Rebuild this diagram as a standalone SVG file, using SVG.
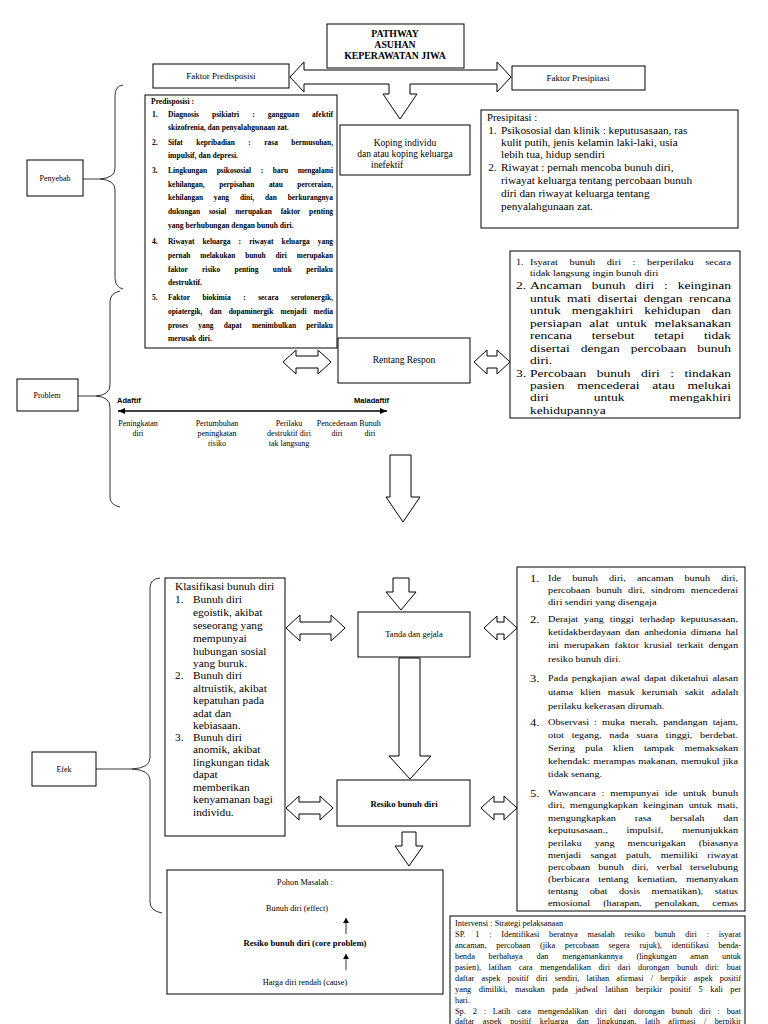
<svg xmlns="http://www.w3.org/2000/svg" width="768" height="1024" viewBox="0 0 768 1024">
<defs>
<style>
.box{fill:#fff;stroke:#000;stroke-width:1}
.arr{fill:#fff;stroke:#000;stroke-width:1}
.ln{fill:none;stroke:#000;stroke-width:0.8}
.axis{fill:none;stroke:#000;stroke-width:1.3}
text{font-family:"Liberation Serif","Times New Roman",serif;fill:#000}
.c{text-anchor:middle}
.b{font-weight:bold}
.s9{font-size:9px}
.s8{font-size:8px}
.t10{font-size:9.8px}
.pre{font-size:7.6px;font-weight:bold}
.j2{font-size:10.8px}
.j1{font-size:8.2px}
.g{font-size:9px}
.num{font-size:11px}
.iv{font-size:8.3px}
.ada{font-family:"Liberation Sans",Arial,sans-serif;font-size:7.5px;font-weight:bold}
</style>
<marker id="ah" viewBox="0 0 7 6" markerWidth="7" markerHeight="6" refX="7" refY="3" orient="auto-start-reverse" markerUnits="userSpaceOnUse">
<path d="M0,0 L7,3 L0,6 Z" fill="#000"/>
</marker>
<marker id="ah2" viewBox="0 0 5 6" markerWidth="5" markerHeight="6" refX="5" refY="3" orient="auto" markerUnits="userSpaceOnUse">
<path d="M0,0 L5,3 L0,6 Z" fill="#000"/>
</marker>
</defs>
<rect width="768" height="1024" fill="#fff"/>

<g id="title">
<rect class="box" x="327" y="24" width="137" height="44"/>
<text class="c b" font-size="9.8" x="395" y="37">PATHWAY</text>
<text class="c b" font-size="9.8" x="395" y="48">ASUHAN</text>
<text class="c b" font-size="9.8" x="395" y="59">KEPERAWATAN JIWA</text>
</g>

<g id="faktor-predisposisi">
<rect class="box" x="153" y="64" width="136" height="24"/>
<text class="c s9" x="221" y="79">Faktor Predisposisi</text>
</g>

<g id="faktor-presipitasi">
<rect class="box" x="512" y="66" width="133" height="24"/>
<text class="c s9" x="578" y="81">Faktor Presipitasi</text>
</g>

<g id="koping">
<rect class="box" x="340" y="125" width="130" height="50"/>
<text class="c" font-size="9.5" x="405" y="146">Koping individu</text>
<text class="c" font-size="9.5" x="405" y="157">dan atau koping keluarga</text>
<text font-size="9.5" x="371" y="168">inefektif</text>
</g>

<g id="predisposisi">
<rect class="box" x="145" y="95" width="192" height="253"/>
<text class="pre" x="151" y="104">Predisposisi :</text>
<text class="pre" x="152" y="117">1.</text>
<text class="pre" x="168" y="117" word-spacing="11.2" textLength="165" lengthAdjust="spacingAndGlyphs">Diagnosis psikiatri : gangguan afektif</text>
<text class="pre" x="168" y="130">skizofrenia, dan penyalahgunaan zat.</text>
<text class="pre" x="152" y="145">2.</text>
<text class="pre" x="168" y="145" word-spacing="12" textLength="165" lengthAdjust="spacingAndGlyphs">Sifat kepribadian : rasa bermusuhan,</text>
<text class="pre" x="168" y="158">impulsif, dan depresi.</text>
<text class="pre" x="152" y="173">3.</text>
<text class="pre" x="168" y="173" word-spacing="7.8" textLength="165" lengthAdjust="spacingAndGlyphs">Lingkungan psikososial : baru mengalami</text>
<text class="pre" x="168" y="187" word-spacing="13" textLength="165" lengthAdjust="spacingAndGlyphs">kehilangan, perpisahan atau perceraian,</text>
<text class="pre" x="168" y="200" word-spacing="9.2" textLength="165" lengthAdjust="spacingAndGlyphs">kehilangan yang dini, dan berkurangnya</text>
<text class="pre" x="168" y="214" word-spacing="7.2" textLength="165" lengthAdjust="spacingAndGlyphs">dukungan sosial merupakan faktor penting</text>
<text class="pre" x="168" y="228">yang berhubungan dengan bunuh diri.</text>
<text class="pre" x="152" y="244">4.</text>
<text class="pre" x="168" y="244" word-spacing="6.4" textLength="165" lengthAdjust="spacingAndGlyphs">Riwayat keluarga : riwayat keluarga yang</text>
<text class="pre" x="168" y="258" word-spacing="8.4" textLength="165" lengthAdjust="spacingAndGlyphs">pernah melakukan bunuh diri merupakan</text>
<text class="pre" x="168" y="272" word-spacing="12.9" textLength="165" lengthAdjust="spacingAndGlyphs">faktor risiko penting untuk perilaku</text>
<text class="pre" x="168" y="285">destruktif.</text>
<text class="pre" x="152" y="300">5.</text>
<text class="pre" x="168" y="300" word-spacing="10.8" textLength="165" lengthAdjust="spacingAndGlyphs">Faktor biokimia : secara serotonergik,</text>
<text class="pre" x="168" y="314" word-spacing="5.4" textLength="165" lengthAdjust="spacingAndGlyphs">opiatergik, dan dopaminergik menjadi media</text>
<text class="pre" x="168" y="328" word-spacing="8.5" textLength="165" lengthAdjust="spacingAndGlyphs">proses yang dapat menimbulkan perilaku</text>
<text class="pre" x="168" y="341">merusak diri.</text>
</g>

<g id="presipitasi">
<rect class="box" x="481" y="110" width="257" height="118"/>
<g transform="matrix(1.15 0 0 1 -73.05 0)">
<text font-size="9.3" x="487" y="121">Presipitasi :</text>
<text class="t10" x="488" y="134">1.</text>
<text class="t10" x="499.2" y="134">Psikososial dan klinik : keputusasaan, ras</text>
<text class="t10" x="499.2" y="146">kulit putih, jenis kelamin laki-laki, usia</text>
<text class="t10" x="499.2" y="158">lebih tua, hidup sendiri</text>
<text class="t10" x="488" y="171">2.</text>
<text class="t10" x="499.2" y="171">Riwayat : pernah mencoba bunuh diri,</text>
<text class="t10" x="499.2" y="184">riwayat keluarga tentang percobaan bunuh</text>
<text class="t10" x="499.2" y="197">diri dan riwayat keluarga tentang</text>
<text class="t10" x="499.2" y="210">penyalahgunaan zat.</text>
</g>
</g>

<g id="penyebab">
<rect class="box" x="27" y="160" width="56" height="36"/>
<text class="c s8" x="55" y="181">Penyebab</text>
</g>

<g id="problem">
<rect class="box" x="17" y="379" width="61" height="32"/>
<text class="c s8" x="47" y="398">Problem</text>
</g>

<g id="rentang-respon">
<rect class="box" x="338" y="338" width="132" height="45"/>
<text class="c" font-size="9.5" x="404" y="363">Rentang Respon</text>
</g>

<g id="rentang-skala">
<text class="ada" x="117" y="403">Adaftif</text>
<text class="ada" x="389" y="403" text-anchor="end">Maladaftif</text>
<text class="c s8" x="138" y="426">Peningkatan</text>
<text class="c s8" x="138" y="436">diri</text>
<text class="c s8" x="217" y="426">Pertumbuhan</text>
<text class="c s8" x="217" y="436">peningkatan</text>
<text class="c s8" x="217" y="446">risiko</text>
<text class="c s8" x="289" y="426">Perilaku</text>
<text class="c s8" x="289" y="436">destruktif diri</text>
<text class="c s8" x="289" y="446">tak langsung</text>
<text class="c s8" x="337" y="426">Pencederaan</text>
<text class="c s8" x="337" y="436">diri</text>
<text class="c s8" x="370" y="426">Bunuh</text>
<text class="c s8" x="370" y="436">diri</text>
</g>

<g id="jenis-bunuh-diri">
<rect class="box" x="510" y="251" width="230" height="167"/>
<g transform="matrix(1.25 0 0 1 -129 0)">
<text class="j1" x="516" y="265">1.</text>
<text class="j1" x="527.2" y="265" word-spacing="7.2" textLength="160.8" lengthAdjust="spacingAndGlyphs">Isyarat bunuh diri : berperilaku secara</text>
<text class="j1" x="527.2" y="276">tidak langsung ingin bunuh diri</text>
<text class="j2" x="516" y="289">2.</text>
<text class="j2" x="527.2" y="289" word-spacing="5.2" textLength="160.8" lengthAdjust="spacingAndGlyphs">Ancaman bunuh diri : keinginan</text>
<text class="j2" x="527.2" y="302" word-spacing="2.4" textLength="160.8" lengthAdjust="spacingAndGlyphs">untuk mati disertai dengan rencana</text>
<text class="j2" x="527.2" y="314" word-spacing="6.1" textLength="160.8" lengthAdjust="spacingAndGlyphs">untuk mengakhiri kehidupan dan</text>
<text class="j2" x="527.2" y="327" word-spacing="3.3" textLength="160.8" lengthAdjust="spacingAndGlyphs">persiapan alat untuk melaksanakan</text>
<text class="j2" x="527.2" y="339" word-spacing="13.1" textLength="160.8" lengthAdjust="spacingAndGlyphs">rencana tersebut tetapi tidak</text>
<text class="j2" x="527.2" y="352" word-spacing="6.1" textLength="160.8" lengthAdjust="spacingAndGlyphs">disertai dengan percobaan bunuh</text>
<text class="j2" x="527.2" y="364">diri.</text>
<text class="j2" x="516" y="377">3.</text>
<text class="j2" x="527.2" y="377" word-spacing="5.7" textLength="160.8" lengthAdjust="spacingAndGlyphs">Percobaan bunuh diri : tindakan</text>
<text class="j2" x="527.2" y="389" word-spacing="7.5" textLength="160.8" lengthAdjust="spacingAndGlyphs">pasien mencederai atau melukai</text>
<text class="j2" x="527.2" y="401" word-spacing="33.3" textLength="160.8" lengthAdjust="spacingAndGlyphs">diri untuk mengakhiri</text>
<text class="j2" x="527.2" y="414">kehidupannya</text>
</g>
</g>

<g id="klasifikasi">
<rect class="box" x="165" y="578" width="120" height="258"/>
<g transform="matrix(1.16 0 0 1 -28 0)">
<text class="t10" x="175" y="590">Klasifikasi bunuh diri</text>
<text class="t10" x="175" y="603">1.</text>
<text class="t10" x="190.5" y="603">Bunuh diri</text>
<text class="t10" x="190.5" y="616">egoistik, akibat</text>
<text class="t10" x="190.5" y="629">seseorang yang</text>
<text class="t10" x="190.5" y="642">mempunyai</text>
<text class="t10" x="190.5" y="655">hubungan sosial</text>
<text class="t10" x="190.5" y="667">yang buruk.</text>
<text class="t10" x="175" y="679">2.</text>
<text class="t10" x="190.5" y="679">Bunuh diri</text>
<text class="t10" x="190.5" y="692">altruistik, akibat</text>
<text class="t10" x="190.5" y="704">kepatuhan pada</text>
<text class="t10" x="190.5" y="717">adat dan</text>
<text class="t10" x="190.5" y="729">kebiasaan.</text>
<text class="t10" x="175" y="741">3.</text>
<text class="t10" x="190.5" y="741">Bunuh diri</text>
<text class="t10" x="190.5" y="753">anomik, akibat</text>
<text class="t10" x="190.5" y="766">lingkungan tidak</text>
<text class="t10" x="190.5" y="778">dapat</text>
<text class="t10" x="190.5" y="791">memberikan</text>
<text class="t10" x="190.5" y="803">kenyamanan bagi</text>
<text class="t10" x="190.5" y="816">individu.</text>
</g>
</g>

<g id="efek">
<rect class="box" x="32" y="752" width="64" height="34"/>
<text class="c s8" x="64" y="772">Efek</text>
</g>

<g id="tanda-gejala">
<rect class="box" x="358" y="612" width="112" height="45"/>
<text class="c" font-size="8.5" x="414" y="637">Tanda dan gejala</text>
</g>

<g id="tanda-gejala-isi">
<rect class="box" x="517" y="567" width="228" height="344"/>
<g transform="matrix(1.14 0 0 1 -76.72 0)">
<text class="num" x="532.2" y="582">1.</text>
<text class="g" x="548" y="581" word-spacing="7.5" textLength="166.7" lengthAdjust="spacingAndGlyphs">Ide bunuh diri, ancaman bunuh diri,</text>
<text class="g" x="548" y="593" word-spacing="3.1" textLength="166.7" lengthAdjust="spacingAndGlyphs">percobaan bunuh diri, sindrom mencederai</text>
<text class="g" x="548" y="605">diri sendiri yang disengaja</text>
<text class="num" x="532.2" y="623">2.</text>
<text class="g" x="548" y="622" word-spacing="2.9" textLength="166.7" lengthAdjust="spacingAndGlyphs">Derajat yang tinggi terhadap keputusasaan,</text>
<text class="g" x="548" y="635" word-spacing="1.6" textLength="166.7" lengthAdjust="spacingAndGlyphs">ketidakberdayaan dan anhedonia dimana hal</text>
<text class="g" x="548" y="648" word-spacing="2.2" textLength="166.7" lengthAdjust="spacingAndGlyphs">ini merupakan faktor krusial terkait dengan</text>
<text class="g" x="548" y="662">resiko bunuh diri.</text>
<text class="num" x="532.2" y="682">3.</text>
<text class="g" x="548" y="681" word-spacing="1.2" textLength="166.7" lengthAdjust="spacingAndGlyphs">Pada pengkajian awal dapat diketahui alasan</text>
<text class="g" x="548" y="695" word-spacing="4" textLength="166.7" lengthAdjust="spacingAndGlyphs">utama klien masuk kerumah sakit adalah</text>
<text class="g" x="548" y="709">perilaku kekerasan dirumah.</text>
<text class="num" x="532.2" y="726">4.</text>
<text class="g" x="548" y="725" word-spacing="2.2" textLength="166.7" lengthAdjust="spacingAndGlyphs">Observasi : muka merah, pandangan tajam,</text>
<text class="g" x="548" y="738" word-spacing="4.5" textLength="166.7" lengthAdjust="spacingAndGlyphs">otot tegang, nada suara tinggi, berdebat.</text>
<text class="g" x="548" y="751" word-spacing="6.8" textLength="166.7" lengthAdjust="spacingAndGlyphs">Sering pula klien tampak memaksakan</text>
<text class="g" x="548" y="764" word-spacing="0.4" textLength="166.7" lengthAdjust="spacingAndGlyphs">kehendak: merampas makanan, memukul jika</text>
<text class="g" x="548" y="777">tidak senang.</text>
<text class="num" x="532.2" y="797">5.</text>
<text class="g" x="548" y="796" word-spacing="2.8" textLength="166.7" lengthAdjust="spacingAndGlyphs">Wawancara : mempunyai ide untuk bunuh</text>
<text class="g" x="548" y="808" word-spacing="2.3" textLength="166.7" lengthAdjust="spacingAndGlyphs">diri, mengungkapkan keinginan untuk mati,</text>
<text class="g" x="548" y="821" word-spacing="14.3" textLength="166.7" lengthAdjust="spacingAndGlyphs">mengungkapkan rasa bersalah dan</text>
<text class="g" x="548" y="833" word-spacing="14.2" textLength="166.7" lengthAdjust="spacingAndGlyphs">keputusasaan., impulsif, menunjukkan</text>
<text class="g" x="548" y="846" word-spacing="9.2" textLength="166.7" lengthAdjust="spacingAndGlyphs">perilaku yang mencurigakan (biasanya</text>
<text class="g" x="548" y="858" word-spacing="6" textLength="166.7" lengthAdjust="spacingAndGlyphs">menjadi sangat patuh, memiliki riwayat</text>
<text class="g" x="548" y="870" word-spacing="4.7" textLength="166.7" lengthAdjust="spacingAndGlyphs">percobaan bunuh diri, verbal terselubung</text>
<text class="g" x="548" y="882" word-spacing="5.4" textLength="166.7" lengthAdjust="spacingAndGlyphs">(berbicara tentang kematian, menanyakan</text>
<text class="g" x="548" y="894" word-spacing="7.9" textLength="166.7" lengthAdjust="spacingAndGlyphs">tentang obat dosis mematikan), status</text>
<text class="g" x="548" y="906" word-spacing="9.1" textLength="166.7" lengthAdjust="spacingAndGlyphs">emosional (harapan, penolakan, cemas</text>
</g>
</g>

<g id="resiko">
<rect class="box" x="337" y="780" width="133" height="46"/>
<text class="c b" font-size="8.7" x="404" y="807">Resiko bunuh diri</text>
</g>

<g id="pohon-masalah">
<rect class="box" x="167" y="870" width="276" height="124"/>
<text class="c" font-size="8.3" x="305" y="885">Pohon Masalah :</text>
<text class="c" font-size="8.3" x="297" y="911">Bunuh diri (effect)</text>
<text class="c b" font-size="8.6" x="305" y="946">Resiko bunuh diri (core problem)</text>
<text class="c" font-size="8.3" x="305" y="985">Harga diri rendah (cause)</text>
</g>

<g id="intervensi">
<rect class="box" x="450" y="916" width="295" height="120"/>
<text class="iv" x="455" y="926">Intervensi : Strategi pelaksanaan</text>
<text class="iv" x="455" y="937" word-spacing="7.7" textLength="286" lengthAdjust="spacingAndGlyphs">SP. 1 : Identifikasi beratnya masalah resiko bunuh diri : isyarat</text>
<text class="iv" x="455" y="948" word-spacing="7.6" textLength="286" lengthAdjust="spacingAndGlyphs">ancaman, percobaan (jika percobaan segera rujuk), identifikasi benda-</text>
<text class="iv" x="455" y="959" word-spacing="11.7" textLength="286" lengthAdjust="spacingAndGlyphs">benda berbahaya dan mengamankannya (lingkungan aman untuk</text>
<text class="iv" x="455" y="970" word-spacing="5.5" textLength="286" lengthAdjust="spacingAndGlyphs">pasien), latihan cara mengendalikan diri dari dorongan bunuh diri: buat</text>
<text class="iv" x="455" y="981" word-spacing="5.1" textLength="286" lengthAdjust="spacingAndGlyphs">daftar aspek positif diri sendiri, latihan afirmasi / berpikir aspek positif</text>
<text class="iv" x="455" y="992" word-spacing="5.3" textLength="286" lengthAdjust="spacingAndGlyphs">yang dimiliki, masukan pada jadwal latihan berpikir positif 5 kali per</text>
<text class="iv" x="455" y="1003">hari.</text>
<text class="iv" x="455" y="1014" word-spacing="4.8" textLength="286" lengthAdjust="spacingAndGlyphs">Sp. 2 : Latih cara mengendalikan diri dari dorongan bunuh diri : buat</text>
<text class="iv" x="455" y="1024" word-spacing="6.4" textLength="286" lengthAdjust="spacingAndGlyphs">daftar aspek positif keluarga dan lingkungan, latih afirmasi / berpikir</text>
</g>

<g id="connectors">
<polygon class="arr" points="290,77 304,62 304,70 497,70 497,62 511,77 497,92 497,84 410,84 410,94 417,94 400,119 383,94 389,94 389,84 304,84 304,92"/>
<polygon class="arr" points="283,362 296,350 296,356 318,356 318,350 331,362 318,374 318,368 296,368 296,374"/>
<polygon class="arr" points="474,362 487,350 487,356 497,356 497,350 510,362 497,374 497,368 487,368 487,374"/>
<path class="axis" d="M118,411 L387,411" marker-start="url(#ah)" marker-end="url(#ah)"/>
<polygon class="arr" points="390,455 411,455 411,497 420,497 403,522 386,497 390,497"/>
<polygon class="arr" points="393,578 409,578 409,592 416,592 401,610 386,592 393,592"/>
<polygon class="arr" points="286,628 300,615 300,622 331,622 331,615 345,628 331,641 331,634 300,634 300,641"/>
<polygon class="arr" points="484,628 497,616 497,622 504,622 504,616 517,628 504,640 504,634 497,634 497,640"/>
<polygon class="arr" points="399,658 420,658 420,756 431,756 410,779 389,756 399,756"/>
<polygon class="arr" points="286,808 299,796 299,802 320,802 320,796 333,808 320,820 320,814 299,814 299,820"/>
<polygon class="arr" points="481,808 494,796 494,802 504,802 504,796 517,808 504,820 504,814 494,814 494,820"/>
<polygon class="arr" points="402,832 416,832 416,846 423,846 409,866 395,846 402,846"/>
<path class="ln" d="M83,179 L100,179 Q115,178 115,168 L115,96 Q115,86 123,85"/>
<path class="ln" d="M100,179 Q115,180 115,190 L115,278 Q115,287 123,289"/>
<path class="ln" d="M78,396 L96,396 Q110,395 110,385 L110,302 Q110,293 120,291"/>
<path class="ln" d="M96,396 Q110,397 110,407 L110,497 Q110,505 120,507"/>
<path class="ln" d="M96,769 L132,769 Q150,768 150,758 L150,588 Q150,579 160,578"/>
<path class="ln" d="M132,769 Q150,770 150,780 L150,902 Q150,911 162,913"/>
<path class="ln" d="M346,934 L346,918" marker-end="url(#ah2)"/>
<path class="ln" d="M346,970 L346,954" marker-end="url(#ah2)"/>
</g>
</svg>
